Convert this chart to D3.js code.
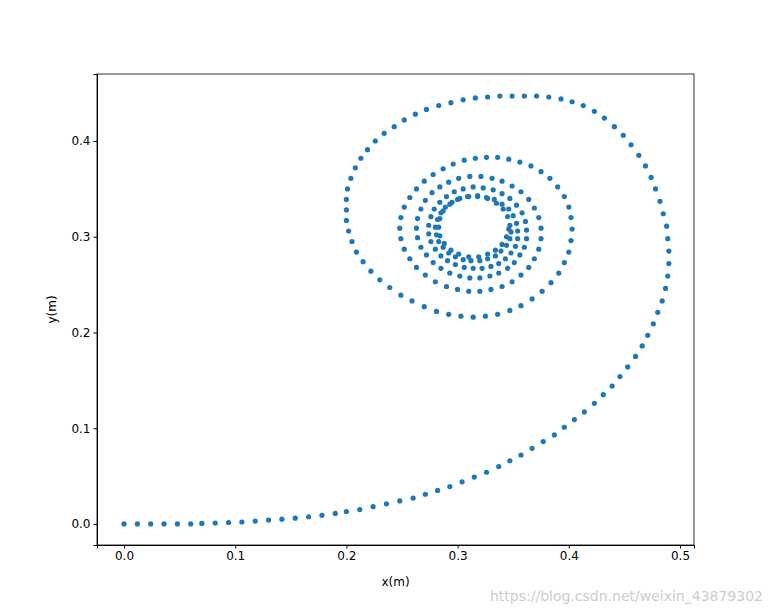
<!DOCTYPE html><html><head><meta charset="utf-8"><script src="https://cdn.jsdelivr.net/npm/d3@7"></script>
<style>body{margin:0;background:#fff}</style></head><body><svg id="c" width="771" height="614"></svg>
<script>
const xs=[0,0.012,0.024,0.036,0.048,0.06,0.07,0.082,0.094,0.106,0.118,0.13,0.142,0.154,0.166,0.178,0.19,0.2,0.212,0.224,0.236,0.248,0.26,0.271,0.282,0.293,0.304,0.315,0.326,0.337,0.347,0.357,0.367,0.377,0.387,0.396,0.405,0.414,0.423,0.431,0.439,0.446,0.453,0.46,0.466,0.471,0.476,0.48,0.484,0.487,0.489,0.49,0.49,0.489,0.488,0.485,0.482,0.478,0.474,0.469,0.463,0.456,0.449,0.441,0.432,0.423,0.413,0.403,0.393,0.382,0.371,0.36,0.349,0.338,0.327,0.316,0.305,0.294,0.283,0.272,0.262,0.252,0.243,0.234,0.226,0.219,0.213,0.208,0.204,0.201,0.2,0.2,0.2,0.202,0.205,0.209,0.215,0.222,0.23,0.239,0.249,0.259,0.27,0.281,0.292,0.303,0.314,0.325,0.336,0.347,0.357,0.367,0.376,0.384,0.391,0.396,0.4,0.402,0.403,0.402,0.4,0.396,0.39,0.383,0.375,0.366,0.356,0.346,0.336,0.326,0.316,0.306,0.296,0.287,0.278,0.27,0.263,0.257,0.252,0.249,0.248,0.249,0.252,0.257,0.263,0.271,0.28,0.29,0.3,0.31,0.32,0.33,0.34,0.349,0.357,0.364,0.369,0.373,0.375,0.375,0.373,0.369,0.364,0.357,0.349,0.34,0.331,0.321,0.311,0.301,0.292,0.284,0.277,0.271,0.267,0.264,0.263,0.264,0.267,0.272,0.278,0.285,0.293,0.302,0.311,0.32,0.329,0.337,0.345,0.351,0.356,0.36,0.362,0.362,0.361,0.358,0.353,0.347,0.34,0.332,0.323,0.314,0.305,0.297,0.29,0.284,0.279,0.276,0.274,0.274,0.276,0.28,0.285,0.291,0.298,0.306,0.314,0.322,0.33,0.337,0.343,0.348,0.352,0.354,0.354,0.353,0.35,0.346,0.34,0.333,0.326,0.318,0.31,0.302,0.295,0.289,0.285,0.282,0.28,0.281,0.283,0.287,0.292,0.298,0.305,0.312,0.32,0.327,0.334,0.339,0.344,0.347,0.348,0.347,0.345,0.341,0.335,0.327,0.318,0.309,0.3,0.293,0.287,0.284,0.283,0.284,0.288,0.294,0.301,0.31,0.319,0.327,0.334,0.34,0.344,0.346];
const ys=[0,0,0,0,0,0,0.0005,0.001,0.0015,0.002,0.003,0.004,0.005,0.006,0.0075,0.009,0.011,0.013,0.015,0.018,0.021,0.024,0.027,0.031,0.035,0.039,0.044,0.049,0.054,0.06,0.066,0.072,0.079,0.086,0.093,0.101,0.109,0.117,0.126,0.135,0.144,0.154,0.164,0.175,0.186,0.197,0.209,0.221,0.233,0.246,0.259,0.272,0.285,0.298,0.311,0.324,0.337,0.35,0.362,0.374,0.385,0.396,0.406,0.415,0.424,0.431,0.437,0.441,0.444,0.446,0.447,0.447,0.447,0.447,0.446,0.445,0.443,0.44,0.437,0.433,0.428,0.422,0.415,0.408,0.4,0.391,0.382,0.372,0.361,0.35,0.339,0.328,0.317,0.306,0.295,0.284,0.274,0.264,0.255,0.247,0.239,0.233,0.227,0.222,0.219,0.217,0.216,0.217,0.219,0.223,0.228,0.235,0.243,0.252,0.262,0.273,0.284,0.296,0.308,0.32,0.331,0.342,0.352,0.361,0.368,0.374,0.378,0.381,0.383,0.383,0.382,0.38,0.376,0.371,0.365,0.358,0.35,0.341,0.331,0.32,0.309,0.298,0.287,0.277,0.268,0.26,0.253,0.248,0.245,0.243,0.243,0.245,0.248,0.253,0.26,0.268,0.277,0.287,0.298,0.309,0.32,0.33,0.339,0.347,0.353,0.358,0.361,0.363,0.363,0.361,0.357,0.352,0.346,0.338,0.329,0.319,0.309,0.299,0.289,0.281,0.273,0.267,0.262,0.259,0.257,0.257,0.259,0.262,0.267,0.273,0.281,0.289,0.298,0.307,0.316,0.325,0.333,0.34,0.345,0.349,0.351,0.352,0.35,0.347,0.342,0.336,0.329,0.321,0.312,0.303,0.295,0.287,0.28,0.275,0.271,0.268,0.267,0.267,0.269,0.272,0.277,0.283,0.29,0.298,0.306,0.314,0.322,0.329,0.334,0.339,0.341,0.343,0.342,0.34,0.336,0.331,0.325,0.318,0.31,0.302,0.295,0.289,0.283,0.279,0.276,0.275,0.275,0.277,0.28,0.285,0.291,0.298,0.305,0.312,0.321,0.329,0.335,0.34,0.342,0.342,0.339,0.334,0.327,0.319,0.31,0.301,0.293,0.286,0.282,0.279,0.279,0.282,0.286,0.292,0.3,0.308];
const xTicks=[0,0.1,0.2,0.3,0.4,0.5], yTicks=[0,0.1,0.2,0.3,0.4];
const svg=d3.select("#c"), L=97,R=694,T=74,B=545;
const x=d3.scaleLinear().domain([-0.0243,0.5126]).range([L,R]);
const y=d3.scaleLinear().domain([-0.022,0.470]).range([B,T]);
svg.append("g").attr("transform",`translate(0,${B})`).call(d3.axisBottom(x).tickValues(xTicks).tickFormat(d3.format(".1f")).tickSizeOuter(0).tickSize(3.5));
svg.append("g").attr("transform",`translate(${L},0)`).call(d3.axisLeft(y).tickValues(yTicks).tickFormat(d3.format(".1f")).tickSizeOuter(0).tickSize(3.5));
svg.selectAll(".tick text").attr("font-family","DejaVu Sans").attr("font-size",12).attr("fill","#000");
svg.append("rect").attr("x",L).attr("y",T).attr("width",R-L).attr("height",B-T).attr("fill","none").attr("stroke","#000").attr("stroke-width",0.8);
svg.selectAll("circle.p").data(xs.map((v,i)=>[v,ys[i]])).enter().append("circle").attr("cx",d=>x(d[0])).attr("cy",d=>y(d[1])).attr("r",2.6).attr("fill","#1f77b4");
svg.append("text").attr("x",(L+R)/2).attr("y",586).attr("text-anchor","middle").attr("font-family","DejaVu Sans").attr("font-size",12).text("x(m)");
svg.append("text").attr("transform",`translate(56,${(T+B)/2}) rotate(-90)`).attr("text-anchor","middle").attr("font-family","DejaVu Sans").attr("font-size",12).text("y(m)");
svg.append("text").attr("x",763).attr("y",601).attr("text-anchor","end").attr("font-family","DejaVu Sans").attr("font-size",14).attr("fill","#ccc").text("https://blog.csdn.net/weixin_43879302");
</script></body></html>
